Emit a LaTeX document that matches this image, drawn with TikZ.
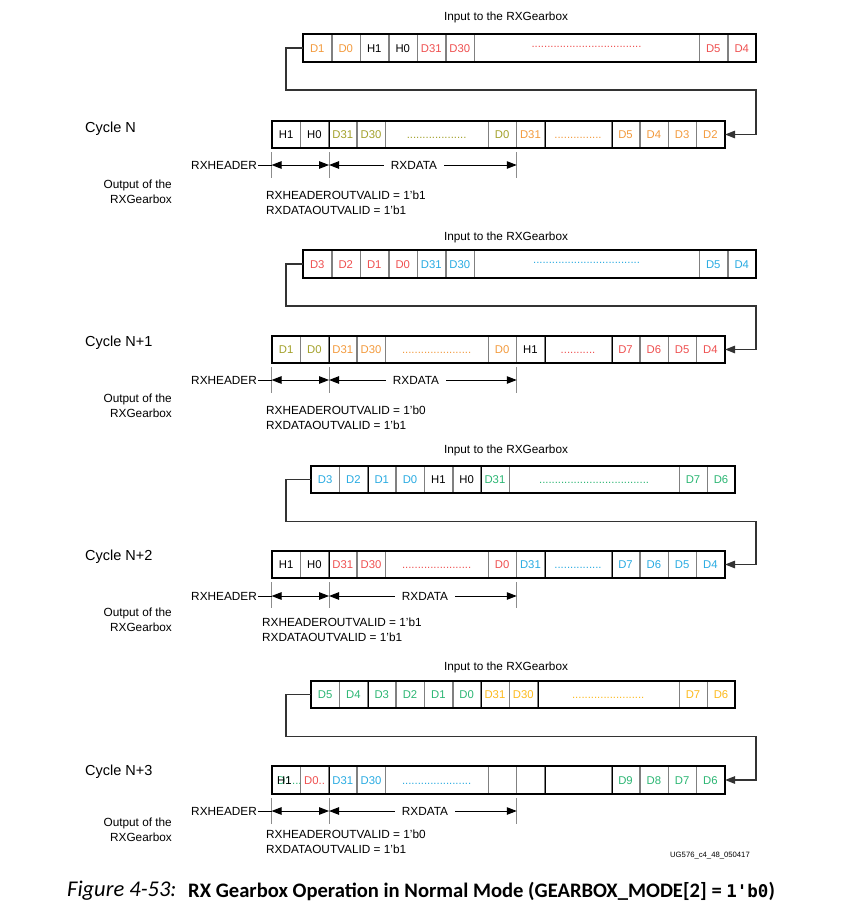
\documentclass[tikz,border=0pt]{standalone}
\usepackage{fontspec}
\setmainfont{Liberation Sans}
\newfontfamily\capfont{Carlito}
\newfontfamily\capmono{DejaVu Sans Mono}
\usetikzlibrary{arrows.meta}
\definecolor{cOr}{HTML}{F39A3C}
\definecolor{cR}{HTML}{EF5050}
\definecolor{cOl}{HTML}{A3A12A}
\definecolor{cCy}{HTML}{29ABE2}
\definecolor{cGr}{HTML}{2BB673}
\definecolor{cGd}{HTML}{FDBA1C}
\newcommand\dts[1]{\foreach \i in {1,...,#1}{.}}
\tikzset{
  cell/.style={draw=black!50, line width=0.9pt, inner sep=0pt, text height=8pt, text depth=0pt, font=\fontsize{11.3}{13}\selectfont},
  celltxt/.style={inner sep=0pt, text height=8pt, text depth=0pt, font=\fontsize{11.3}{13}\selectfont, anchor=base west},
  sepk/.style={draw=black, line width=1.4pt},
  sepg/.style={draw=black!50, line width=0.9pt},
  frame/.style={draw=black, line width=2pt},
  conn/.style={draw=black!80, line width=1.2pt},
  dim/.style={draw=black, line width=1pt},
  tk/.style={draw=black!45, line width=0.9pt},
  lbl/.style={font=\fontsize{11.8}{15}\selectfont, inner sep=1pt},
  cyc/.style={font=\fontsize{14.5}{17}\selectfont, inner sep=0pt, anchor=west},
  tip/.style={-{Triangle[length=10pt,width=7.5pt]}},
  dtip/.style={{Triangle[length=10pt,width=7.5pt]}-{Triangle[length=10pt,width=7.5pt]}},
}
\newcommand\gbrow[4]{%
  \foreach \xl/\xr/\lab/\col/\sp [count=\k] in {#4} {
    \node[cell, minimum height=#3pt, minimum width={(\xr-\xl)*1pt}, text=\col] (#1-\k) at ({(\xl+\xr)/2},#2) {\lab};
    \draw[\sp] (#1-\k.north east) -- (#1-\k.south east);
  }%
}
\begin{document}
\begin{tikzpicture}[x=1pt,y=-1pt]
\useasboundingbox (0,0) rectangle (865,911);
\fill[white] (0,0) rectangle (865,911);

% ================= Block 1 =================
\node[lbl] (inl1) at (506,17) {Input to the RXGearbox};
\gbrow{in1}{48}{27}{303/331.5/D1/cOr/sepg, 331.5/360/D0/cOr/sepk, 360/388.5/H1/black/sepg, 388.5/417/H0/black/sepk, 417/445.5/D31/cR/sepg, 445.5/474/D30/cR/sepk, 474/699/{\raisebox{5pt}{\dts{35}}}/cR/sepk, 699/727.5/D5/cR/sepg, 727.5/756/D4/cR/sepk}
\draw[frame] (in1-1.north west) rectangle (in1-9.south east);
\node[cyc] (cyc1) at (85,129) {Cycle N};
\gbrow{out1}{134.5}{27}{272/300.3/H1/black/sepg, 300.3/328.6/H0/black/sepk, 328.6/356.9/D31/cOl/sepg, 356.9/385.2/D30/cOl/sepk, 385.2/488/\dts{19}/cOl/sepk, 488/516.3/D0/cOl/sepk, 516.3/544.6/D31/cOr/sepk, 544.6/611.4/\dts{15}/cOr/sepk, 611.4/639.7/D5/cOr/sepg, 639.7/668/D4/cOr/sepk, 668/696.3/D3/cOr/sepg, 696.3/724.6/D2/cOr/sepk}
\draw[frame] (out1-1.north west) rectangle (out1-12.south east);
\coordinate (L1) at (286,90);
\coordinate (R1) at (756,90);
\draw[conn,tip] (in1-1.west) -| (L1) -- (R1) |- (out1-12.east);
\node[lbl,anchor=east] (hdr1) at (258,165) {RXHEADER};
\coordinate (a11) at (out1-1.south west |- hdr1.east);
\coordinate (a12) at (out1-2.south east |- hdr1.east);
\coordinate (a13) at (out1-6.south east |- hdr1.east);
\draw[tk] ([yshift=-4pt]out1-1.south west) -- ([yshift=-30pt]out1-1.south west);
\draw[tk] ([yshift=-4pt]out1-2.south east) -- ([yshift=-30pt]out1-2.south east);
\draw[tk] ([yshift=-4pt]out1-6.south east) -- ([yshift=-30pt]out1-6.south east);
\draw[dim] (hdr1.east) -- (a11);
\draw[dim,dtip] (a11) -- (a12);
\draw[dim,dtip] (a12) -- (a13);
\node[lbl,fill=white,inner xsep=7pt] (dat1) at (414,165) {RXDATA};
\node[lbl,anchor=east,align=right] (oo1) at (173,191.5) {Output of the\\RXGearbox};
\node[lbl,anchor=west,align=left] (v1) at (265,202.5) {RXHEADEROUTVALID = 1'b1\\RXDATAOUTVALID = 1'b1};

% ================= Block 2 =================
\node[lbl] (inl2) at (506,237) {Input to the RXGearbox};
\gbrow{in2}{264}{27}{303/331.5/D3/cR/sepg, 331.5/360/D2/cR/sepk, 360/388.5/D1/cR/sepg, 388.5/417/D0/cR/sepk, 417/445.5/D31/cCy/sepg, 445.5/474/D30/cCy/sepk, 474/699/{\raisebox{5pt}{\dts{34}}}/cCy/sepk, 699/727.5/D5/cCy/sepg, 727.5/756/D4/cCy/sepk}
\draw[frame] (in2-1.north west) rectangle (in2-9.south east);
\node[cyc] (cyc2) at (85,343) {Cycle N+1};
\gbrow{out2}{349.5}{27}{272/300.3/D1/cOl/sepg, 300.3/328.6/D0/cOl/sepk, 328.6/356.9/D31/cOr/sepg, 356.9/385.2/D30/cOr/sepk, 385.2/488/\dts{22}/cOr/sepk, 488/516.3/D0/cOr/sepk, 516.3/544.6/H1/black/sepk, 544.6/611.4/\dts{11}/cR/sepk, 611.4/639.7/D7/cR/sepg, 639.7/668/D6/cR/sepk, 668/696.3/D5/cR/sepg, 696.3/724.6/D4/cR/sepk}
\draw[frame] (out2-1.north west) rectangle (out2-12.south east);
\coordinate (L2) at (286,306);
\coordinate (R2) at (756,306);
\draw[conn,tip] (in2-1.west) -| (L2) -- (R2) |- (out2-12.east);
\node[lbl,anchor=east] (hdr2) at (258,380) {RXHEADER};
\coordinate (a21) at (out2-1.south west |- hdr2.east);
\coordinate (a22) at (out2-2.south east |- hdr2.east);
\coordinate (a23) at (out2-6.south east |- hdr2.east);
\draw[tk] ([yshift=-4pt]out2-1.south west) -- ([yshift=-30pt]out2-1.south west);
\draw[tk] ([yshift=-4pt]out2-2.south east) -- ([yshift=-30pt]out2-2.south east);
\draw[tk] ([yshift=-4pt]out2-6.south east) -- ([yshift=-30pt]out2-6.south east);
\draw[dim] (hdr2.east) -- (a21);
\draw[dim,dtip] (a21) -- (a22);
\draw[dim,dtip] (a22) -- (a23);
\node[lbl,fill=white,inner xsep=7pt] (dat2) at (416,380) {RXDATA};
\node[lbl,anchor=east,align=right] (oo2) at (173,405.5) {Output of the\\RXGearbox};
\node[lbl,anchor=west,align=left] (v2) at (265,417.5) {RXHEADEROUTVALID = 1'b0\\RXDATAOUTVALID = 1'b1};

% ================= Block 3 =================
\node[lbl] (inl3) at (506,450) {Input to the RXGearbox};
\gbrow{in3}{479.5}{27}{311/339.3/D3/cCy/sepg, 339.3/367.6/D2/cCy/sepk, 367.6/395.9/D1/cCy/sepg, 395.9/424.2/D0/cCy/sepk, 424.2/452.5/H1/black/sepg, 452.5/480.8/H0/black/sepk, 480.8/509.1/D31/cGr/sepk, 509.1/679/\dts{35}/cGr/sepk, 679/707/D7/cGr/sepg, 707/735/D6/cGr/sepk}
\draw[frame] (in3-1.north west) rectangle (in3-10.south east);
\node[cyc] (cyc3) at (85,557) {Cycle N+2};
\gbrow{out3}{564.5}{27}{272/300.3/H1/black/sepg, 300.3/328.6/H0/black/sepk, 328.6/356.9/D31/cR/sepg, 356.9/385.2/D30/cR/sepk, 385.2/488/\dts{22}/cR/sepk, 488/516.3/D0/cR/sepk, 516.3/544.6/D31/cCy/sepk, 544.6/611.4/\dts{15}/cCy/sepk, 611.4/639.7/D7/cCy/sepg, 639.7/668/D6/cCy/sepk, 668/696.3/D5/cCy/sepg, 696.3/724.6/D4/cCy/sepk}
\draw[frame] (out3-1.north west) rectangle (out3-12.south east);
\coordinate (L3) at (286,521.5);
\coordinate (R3) at (756,521.5);
\draw[conn,tip] (in3-1.west) -| (L3) -- (R3) |- (out3-12.east);
\node[lbl,anchor=east] (hdr3) at (258,596) {RXHEADER};
\coordinate (a31) at (out3-1.south west |- hdr3.east);
\coordinate (a32) at (out3-2.south east |- hdr3.east);
\coordinate (a33) at (out3-6.south east |- hdr3.east);
\draw[tk] ([yshift=-4pt]out3-1.south west) -- ([yshift=-30pt]out3-1.south west);
\draw[tk] ([yshift=-4pt]out3-2.south east) -- ([yshift=-30pt]out3-2.south east);
\draw[tk] ([yshift=-4pt]out3-6.south east) -- ([yshift=-30pt]out3-6.south east);
\draw[dim] (hdr3.east) -- (a31);
\draw[dim,dtip] (a31) -- (a32);
\draw[dim,dtip] (a32) -- (a33);
\node[lbl,fill=white,inner xsep=7pt] (dat3) at (425,596) {RXDATA};
\node[lbl,anchor=east,align=right] (oo3) at (173,619.5) {Output of the\\RXGearbox};
\node[lbl,anchor=west,align=left] (v3) at (261,630) {RXHEADEROUTVALID = 1'b1\\RXDATAOUTVALID = 1'b1};

% ================= Block 4 =================
\node[lbl] (inl4) at (506,667) {Input to the RXGearbox};
\gbrow{in4}{694.5}{27}{311/339.3/D5/cGr/sepg, 339.3/367.6/D4/cGr/sepk, 367.6/395.9/D3/cGr/sepg, 395.9/424.2/D2/cGr/sepk, 424.2/452.5/D1/cGr/sepg, 452.5/480.8/D0/cGr/sepk, 480.8/509.1/D31/cGd/sepg, 509.1/537.4/D30/cGd/sepk, 537.4/679/\dts{23}/cGd/sepk, 679/707/D7/cGd/sepg, 707/735/D6/cGd/sepk}
\draw[frame] (in4-1.north west) rectangle (in4-11.south east);
\node[cyc] (cyc4) at (85,772) {Cycle N+3};
\gbrow{out4}{780}{27}{272/300.3/{}/black/sepg, 300.3/328.6/{}/black/sepk, 328.6/356.9/D31/cCy/sepg, 356.9/385.2/D30/cCy/sepk, 385.2/488/\dts{22}/cCy/sepk, 488/516.3/{}/black/sepk, 516.3/544.6/{}/black/sepk, 544.6/611.4/{}/black/sepk, 611.4/639.7/D9/cGr/sepg, 639.7/668/D8/cGr/sepk, 668/696.3/D7/cGr/sepg, 696.3/724.6/D6/cGr/sepk}
\draw[frame] (out4-1.north west) rectangle (out4-12.south east);
\node[celltxt,text=cGr] (ov1) at (277,784) {D1};
\node[celltxt,text=black] (ov2) at (277,784) {H1};
\node[celltxt,text=cGr] (ov3) at (292,784) {\dts{3}};
\node[celltxt,text=cR] (ov4) at (304,784) {D0};
\node[celltxt,text=cR] (ov5) at (318.5,784) {\dts{2}};
\coordinate (L4) at (286,736.5);
\coordinate (R4) at (756,736.5);
\draw[conn,tip] (in4-1.west) -| (L4) -- (R4) |- (out4-12.east);
\node[lbl,anchor=east] (hdr4) at (258,811) {RXHEADER};
\coordinate (a41) at (out4-1.south west |- hdr4.east);
\coordinate (a42) at (out4-2.south east |- hdr4.east);
\coordinate (a43) at (out4-6.south east |- hdr4.east);
\draw[tk] ([yshift=-4pt]out4-1.south west) -- ([yshift=-30pt]out4-1.south west);
\draw[tk] ([yshift=-4pt]out4-2.south east) -- ([yshift=-30pt]out4-2.south east);
\draw[tk] ([yshift=-4pt]out4-6.south east) -- ([yshift=-30pt]out4-6.south east);
\draw[dim] (hdr4.east) -- (a41);
\draw[dim,dtip] (a41) -- (a42);
\draw[dim,dtip] (a42) -- (a43);
\node[lbl,fill=white,inner xsep=7pt] (dat4) at (425,811) {RXDATA};
\node[lbl,anchor=east,align=right] (oo4) at (173,829.5) {Output of the\\RXGearbox};
\node[lbl,anchor=west,align=left] (v4) at (265,842) {RXHEADEROUTVALID = 1'b0\\RXDATAOUTVALID = 1'b1};

\node[font=\fontsize{7.7}{9}\selectfont, inner sep=0pt] (ug) at (710,856) {UG576\_c4\_48\_050417};

% caption
\node[anchor=west, inner sep=0pt, font=\capfont\fontsize{22.5}{26}\selectfont\itshape] (fig) at (67,891) {Figure 4-53:};
\node[anchor=west, inner sep=0pt, font=\capfont\fontsize{20.6}{24}\selectfont\bfseries] (cap) at (188,891) {RX Gearbox Operation in Normal Mode (GEARBOX\_MODE[2] = {\capmono\fontsize{17.5}{20}\selectfont 1'b0})};
\end{tikzpicture}
\end{document}
